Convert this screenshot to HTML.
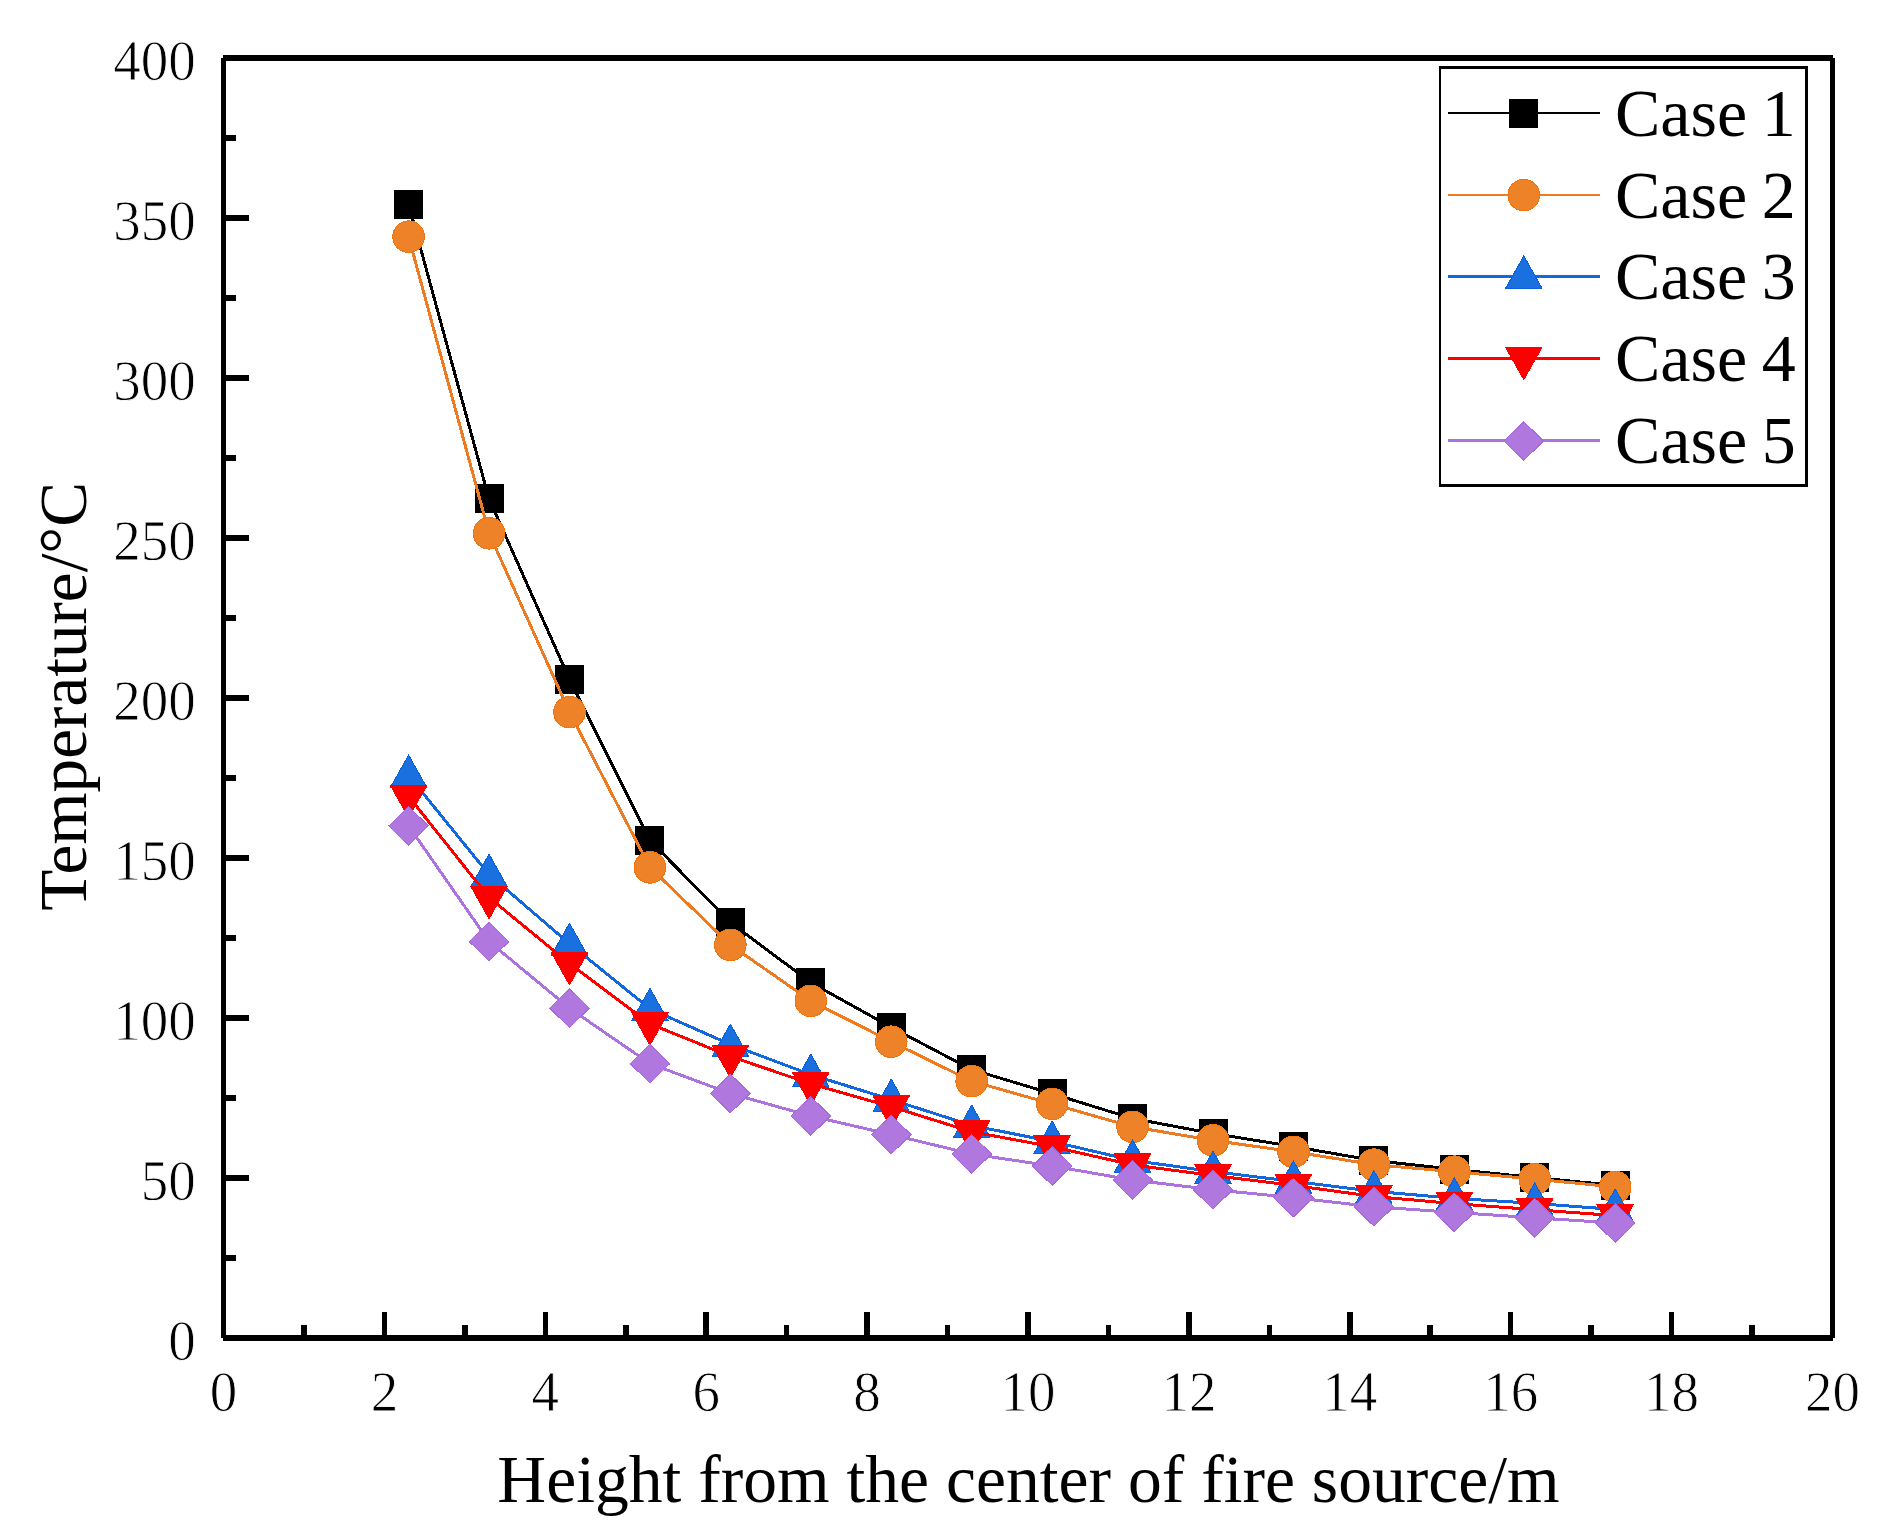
<!DOCTYPE html>
<html><head><meta charset="utf-8"><title>Temperature vs height</title>
<style>html,body{margin:0;padding:0;background:#fff;}svg{display:block;}text{font-family:"Liberation Serif","Times New Roman",serif;fill:#000;}</style></head><body>
<svg width="1890" height="1535" viewBox="0 0 1890 1535">
<rect width="1890" height="1535" fill="#fff"/>
<g shape-rendering="crispEdges">
<polyline points="408.61,204.5 489.05,498.9 569.49,679.2 649.93,840.4 730.37,922.5 810.81,982.5 891.25,1027.3 971.69,1069.6 1052.13,1093.7 1132.57,1118.5 1213.01,1133.5 1293.45,1146.5 1373.89,1160.5 1454.33,1169.4 1534.77,1177.6 1615.21,1185.4" fill="none" stroke="#000000" stroke-width="3.0" stroke-linejoin="round"/>
<rect x="394.61" y="190.5" width="28" height="28" fill="#000000" stroke="#000000" stroke-width="1"/>
<rect x="475.05" y="484.9" width="28" height="28" fill="#000000" stroke="#000000" stroke-width="1"/>
<rect x="555.49" y="665.2" width="28" height="28" fill="#000000" stroke="#000000" stroke-width="1"/>
<rect x="635.93" y="826.4" width="28" height="28" fill="#000000" stroke="#000000" stroke-width="1"/>
<rect x="716.37" y="908.5" width="28" height="28" fill="#000000" stroke="#000000" stroke-width="1"/>
<rect x="796.81" y="968.5" width="28" height="28" fill="#000000" stroke="#000000" stroke-width="1"/>
<rect x="877.25" y="1013.3" width="28" height="28" fill="#000000" stroke="#000000" stroke-width="1"/>
<rect x="957.69" y="1055.6" width="28" height="28" fill="#000000" stroke="#000000" stroke-width="1"/>
<rect x="1038.13" y="1079.7" width="28" height="28" fill="#000000" stroke="#000000" stroke-width="1"/>
<rect x="1118.57" y="1104.5" width="28" height="28" fill="#000000" stroke="#000000" stroke-width="1"/>
<rect x="1199.01" y="1119.5" width="28" height="28" fill="#000000" stroke="#000000" stroke-width="1"/>
<rect x="1279.45" y="1132.5" width="28" height="28" fill="#000000" stroke="#000000" stroke-width="1"/>
<rect x="1359.89" y="1146.5" width="28" height="28" fill="#000000" stroke="#000000" stroke-width="1"/>
<rect x="1440.33" y="1155.4" width="28" height="28" fill="#000000" stroke="#000000" stroke-width="1"/>
<rect x="1520.77" y="1163.6" width="28" height="28" fill="#000000" stroke="#000000" stroke-width="1"/>
<rect x="1601.21" y="1171.4" width="28" height="28" fill="#000000" stroke="#000000" stroke-width="1"/>
<polyline points="408.61,236.7 489.05,533.3 569.49,712.2 649.93,867.4 730.37,944.9 810.81,1000.9 891.25,1041.7 971.69,1081.2 1052.13,1103.9 1132.57,1126.8 1213.01,1140.4 1293.45,1151.8 1373.89,1164.6 1454.33,1171.7 1534.77,1179.1 1615.21,1187" fill="none" stroke="#EE7B22" stroke-width="3.0" stroke-linejoin="round"/>
<circle cx="408.61" cy="236.7" r="15.8" fill="#EE8229" stroke="#EC7512" stroke-width="1"/>
<circle cx="489.05" cy="533.3" r="15.8" fill="#EE8229" stroke="#EC7512" stroke-width="1"/>
<circle cx="569.49" cy="712.2" r="15.8" fill="#EE8229" stroke="#EC7512" stroke-width="1"/>
<circle cx="649.93" cy="867.4" r="15.8" fill="#EE8229" stroke="#EC7512" stroke-width="1"/>
<circle cx="730.37" cy="944.9" r="15.8" fill="#EE8229" stroke="#EC7512" stroke-width="1"/>
<circle cx="810.81" cy="1000.9" r="15.8" fill="#EE8229" stroke="#EC7512" stroke-width="1"/>
<circle cx="891.25" cy="1041.7" r="15.8" fill="#EE8229" stroke="#EC7512" stroke-width="1"/>
<circle cx="971.69" cy="1081.2" r="15.8" fill="#EE8229" stroke="#EC7512" stroke-width="1"/>
<circle cx="1052.13" cy="1103.9" r="15.8" fill="#EE8229" stroke="#EC7512" stroke-width="1"/>
<circle cx="1132.57" cy="1126.8" r="15.8" fill="#EE8229" stroke="#EC7512" stroke-width="1"/>
<circle cx="1213.01" cy="1140.4" r="15.8" fill="#EE8229" stroke="#EC7512" stroke-width="1"/>
<circle cx="1293.45" cy="1151.8" r="15.8" fill="#EE8229" stroke="#EC7512" stroke-width="1"/>
<circle cx="1373.89" cy="1164.6" r="15.8" fill="#EE8229" stroke="#EC7512" stroke-width="1"/>
<circle cx="1454.33" cy="1171.7" r="15.8" fill="#EE8229" stroke="#EC7512" stroke-width="1"/>
<circle cx="1534.77" cy="1179.1" r="15.8" fill="#EE8229" stroke="#EC7512" stroke-width="1"/>
<circle cx="1615.21" cy="1187" r="15.8" fill="#EE8229" stroke="#EC7512" stroke-width="1"/>
<polyline points="408.61,775.5 489.05,874.6 569.49,943.7 649.93,1008.8 730.37,1044.5 810.81,1074.6 891.25,1099.6 971.69,1125.5 1052.13,1141.5 1132.57,1160.4 1213.01,1171.6 1293.45,1181.4 1373.89,1191.3 1454.33,1198.3 1534.77,1203.4 1615.21,1209.5" fill="none" stroke="#1468DD" stroke-width="3.0" stroke-linejoin="round"/>
<polygon points="408.61,755 426.81,787.4 390.41,787.4" fill="#1B70DF" stroke="#0A5FDA" stroke-width="1" stroke-linejoin="round"/>
<polygon points="489.05,854.1 507.25,886.5 470.85,886.5" fill="#1B70DF" stroke="#0A5FDA" stroke-width="1" stroke-linejoin="round"/>
<polygon points="569.49,923.2 587.69,955.6 551.29,955.6" fill="#1B70DF" stroke="#0A5FDA" stroke-width="1" stroke-linejoin="round"/>
<polygon points="649.93,988.3 668.13,1020.7 631.73,1020.7" fill="#1B70DF" stroke="#0A5FDA" stroke-width="1" stroke-linejoin="round"/>
<polygon points="730.37,1024 748.57,1056.4 712.17,1056.4" fill="#1B70DF" stroke="#0A5FDA" stroke-width="1" stroke-linejoin="round"/>
<polygon points="810.81,1054.1 829.01,1086.5 792.61,1086.5" fill="#1B70DF" stroke="#0A5FDA" stroke-width="1" stroke-linejoin="round"/>
<polygon points="891.25,1079.1 909.45,1111.5 873.05,1111.5" fill="#1B70DF" stroke="#0A5FDA" stroke-width="1" stroke-linejoin="round"/>
<polygon points="971.69,1105 989.89,1137.4 953.49,1137.4" fill="#1B70DF" stroke="#0A5FDA" stroke-width="1" stroke-linejoin="round"/>
<polygon points="1052.13,1121 1070.33,1153.4 1033.93,1153.4" fill="#1B70DF" stroke="#0A5FDA" stroke-width="1" stroke-linejoin="round"/>
<polygon points="1132.57,1139.9 1150.77,1172.3 1114.37,1172.3" fill="#1B70DF" stroke="#0A5FDA" stroke-width="1" stroke-linejoin="round"/>
<polygon points="1213.01,1151.1 1231.21,1183.5 1194.81,1183.5" fill="#1B70DF" stroke="#0A5FDA" stroke-width="1" stroke-linejoin="round"/>
<polygon points="1293.45,1160.9 1311.65,1193.3 1275.25,1193.3" fill="#1B70DF" stroke="#0A5FDA" stroke-width="1" stroke-linejoin="round"/>
<polygon points="1373.89,1170.8 1392.09,1203.2 1355.69,1203.2" fill="#1B70DF" stroke="#0A5FDA" stroke-width="1" stroke-linejoin="round"/>
<polygon points="1454.33,1177.8 1472.53,1210.2 1436.13,1210.2" fill="#1B70DF" stroke="#0A5FDA" stroke-width="1" stroke-linejoin="round"/>
<polygon points="1534.77,1182.9 1552.97,1215.3 1516.57,1215.3" fill="#1B70DF" stroke="#0A5FDA" stroke-width="1" stroke-linejoin="round"/>
<polygon points="1615.21,1189 1633.41,1221.4 1597.01,1221.4" fill="#1B70DF" stroke="#0A5FDA" stroke-width="1" stroke-linejoin="round"/>
<polyline points="408.61,796.4 489.05,897.5 569.49,963.5 649.93,1023.8 730.37,1056.4 810.81,1083.8 891.25,1106.7 971.69,1131.8 1052.13,1146.7 1132.57,1164.9 1213.01,1175.5 1293.45,1185.4 1373.89,1196.5 1454.33,1203.6 1534.77,1209.7 1615.21,1215.6" fill="none" stroke="#FF0000" stroke-width="3.0" stroke-linejoin="round"/>
<polygon points="390.41,785.4 426.81,785.4 408.61,817.8" fill="#FF0000" stroke="#FF0000" stroke-width="1" stroke-linejoin="round"/>
<polygon points="470.85,886.5 507.25,886.5 489.05,918.9" fill="#FF0000" stroke="#FF0000" stroke-width="1" stroke-linejoin="round"/>
<polygon points="551.29,952.5 587.69,952.5 569.49,984.9" fill="#FF0000" stroke="#FF0000" stroke-width="1" stroke-linejoin="round"/>
<polygon points="631.73,1012.8 668.13,1012.8 649.93,1045.2" fill="#FF0000" stroke="#FF0000" stroke-width="1" stroke-linejoin="round"/>
<polygon points="712.17,1045.4 748.57,1045.4 730.37,1077.8" fill="#FF0000" stroke="#FF0000" stroke-width="1" stroke-linejoin="round"/>
<polygon points="792.61,1072.8 829.01,1072.8 810.81,1105.2" fill="#FF0000" stroke="#FF0000" stroke-width="1" stroke-linejoin="round"/>
<polygon points="873.05,1095.7 909.45,1095.7 891.25,1128.1" fill="#FF0000" stroke="#FF0000" stroke-width="1" stroke-linejoin="round"/>
<polygon points="953.49,1120.8 989.89,1120.8 971.69,1153.2" fill="#FF0000" stroke="#FF0000" stroke-width="1" stroke-linejoin="round"/>
<polygon points="1033.93,1135.7 1070.33,1135.7 1052.13,1168.1" fill="#FF0000" stroke="#FF0000" stroke-width="1" stroke-linejoin="round"/>
<polygon points="1114.37,1153.9 1150.77,1153.9 1132.57,1186.3" fill="#FF0000" stroke="#FF0000" stroke-width="1" stroke-linejoin="round"/>
<polygon points="1194.81,1164.5 1231.21,1164.5 1213.01,1196.9" fill="#FF0000" stroke="#FF0000" stroke-width="1" stroke-linejoin="round"/>
<polygon points="1275.25,1174.4 1311.65,1174.4 1293.45,1206.8" fill="#FF0000" stroke="#FF0000" stroke-width="1" stroke-linejoin="round"/>
<polygon points="1355.69,1185.5 1392.09,1185.5 1373.89,1217.9" fill="#FF0000" stroke="#FF0000" stroke-width="1" stroke-linejoin="round"/>
<polygon points="1436.13,1192.6 1472.53,1192.6 1454.33,1225" fill="#FF0000" stroke="#FF0000" stroke-width="1" stroke-linejoin="round"/>
<polygon points="1516.57,1198.7 1552.97,1198.7 1534.77,1231.1" fill="#FF0000" stroke="#FF0000" stroke-width="1" stroke-linejoin="round"/>
<polygon points="1597.01,1204.6 1633.41,1204.6 1615.21,1237" fill="#FF0000" stroke="#FF0000" stroke-width="1" stroke-linejoin="round"/>
<polyline points="408.61,825.9 489.05,941.6 569.49,1008.2 649.93,1063.6 730.37,1093.5 810.81,1116 891.25,1134.6 971.69,1154 1052.13,1166 1132.57,1180 1213.01,1189.7 1293.45,1197.6 1373.89,1206.8 1454.33,1212.4 1534.77,1217.8 1615.21,1223" fill="none" stroke="#AC72DD" stroke-width="3.0" stroke-linejoin="round"/>
<polygon points="408.61,806.6 428.41,825.9 408.61,845.2 388.81,825.9" fill="#B078DF" stroke="#A668DA" stroke-width="1" stroke-linejoin="round"/>
<polygon points="489.05,922.3 508.85,941.6 489.05,960.9 469.25,941.6" fill="#B078DF" stroke="#A668DA" stroke-width="1" stroke-linejoin="round"/>
<polygon points="569.49,988.9 589.29,1008.2 569.49,1027.5 549.69,1008.2" fill="#B078DF" stroke="#A668DA" stroke-width="1" stroke-linejoin="round"/>
<polygon points="649.93,1044.3 669.73,1063.6 649.93,1082.9 630.13,1063.6" fill="#B078DF" stroke="#A668DA" stroke-width="1" stroke-linejoin="round"/>
<polygon points="730.37,1074.2 750.17,1093.5 730.37,1112.8 710.57,1093.5" fill="#B078DF" stroke="#A668DA" stroke-width="1" stroke-linejoin="round"/>
<polygon points="810.81,1096.7 830.61,1116 810.81,1135.3 791.01,1116" fill="#B078DF" stroke="#A668DA" stroke-width="1" stroke-linejoin="round"/>
<polygon points="891.25,1115.3 911.05,1134.6 891.25,1153.9 871.45,1134.6" fill="#B078DF" stroke="#A668DA" stroke-width="1" stroke-linejoin="round"/>
<polygon points="971.69,1134.7 991.49,1154 971.69,1173.3 951.89,1154" fill="#B078DF" stroke="#A668DA" stroke-width="1" stroke-linejoin="round"/>
<polygon points="1052.13,1146.7 1071.93,1166 1052.13,1185.3 1032.33,1166" fill="#B078DF" stroke="#A668DA" stroke-width="1" stroke-linejoin="round"/>
<polygon points="1132.57,1160.7 1152.37,1180 1132.57,1199.3 1112.77,1180" fill="#B078DF" stroke="#A668DA" stroke-width="1" stroke-linejoin="round"/>
<polygon points="1213.01,1170.4 1232.81,1189.7 1213.01,1209 1193.21,1189.7" fill="#B078DF" stroke="#A668DA" stroke-width="1" stroke-linejoin="round"/>
<polygon points="1293.45,1178.3 1313.25,1197.6 1293.45,1216.9 1273.65,1197.6" fill="#B078DF" stroke="#A668DA" stroke-width="1" stroke-linejoin="round"/>
<polygon points="1373.89,1187.5 1393.69,1206.8 1373.89,1226.1 1354.09,1206.8" fill="#B078DF" stroke="#A668DA" stroke-width="1" stroke-linejoin="round"/>
<polygon points="1454.33,1193.1 1474.13,1212.4 1454.33,1231.7 1434.53,1212.4" fill="#B078DF" stroke="#A668DA" stroke-width="1" stroke-linejoin="round"/>
<polygon points="1534.77,1198.5 1554.57,1217.8 1534.77,1237.1 1514.97,1217.8" fill="#B078DF" stroke="#A668DA" stroke-width="1" stroke-linejoin="round"/>
<polygon points="1615.21,1203.7 1635.01,1223 1615.21,1242.3 1595.41,1223" fill="#B078DF" stroke="#A668DA" stroke-width="1" stroke-linejoin="round"/>
</g>
<g fill="#000" shape-rendering="crispEdges"><rect x="223" y="55" width="1610" height="6"/><rect x="223" y="1335" width="1610" height="6"/><rect x="221" y="58" width="5" height="1280"/><rect x="1830" y="58" width="5" height="1280"/><rect x="301" y="1325" width="6" height="10"/><rect x="382" y="1312" width="5" height="23"/><rect x="462" y="1325" width="6" height="10"/><rect x="543" y="1312" width="5" height="23"/><rect x="623" y="1325" width="6" height="10"/><rect x="703" y="1312" width="6" height="23"/><rect x="784" y="1325" width="5" height="10"/><rect x="864" y="1312" width="6" height="23"/><rect x="945" y="1325" width="5" height="10"/><rect x="1025" y="1312" width="6" height="23"/><rect x="1106" y="1325" width="5" height="10"/><rect x="1186" y="1312" width="6" height="23"/><rect x="1267" y="1325" width="5" height="10"/><rect x="1347" y="1312" width="6" height="23"/><rect x="1427" y="1325" width="6" height="10"/><rect x="1508" y="1312" width="5" height="23"/><rect x="1588" y="1325" width="6" height="10"/><rect x="1669" y="1312" width="5" height="23"/><rect x="1749" y="1325" width="6" height="10"/><rect x="226" y="1255" width="10" height="6"/><rect x="226" y="1175" width="23" height="6"/><rect x="226" y="1095" width="10" height="6"/><rect x="226" y="1015" width="23" height="6"/><rect x="226" y="935" width="10" height="6"/><rect x="226" y="855" width="23" height="6"/><rect x="226" y="775" width="10" height="6"/><rect x="226" y="695" width="23" height="6"/><rect x="226" y="615" width="10" height="6"/><rect x="226" y="535" width="23" height="6"/><rect x="226" y="455" width="10" height="6"/><rect x="226" y="375" width="23" height="6"/><rect x="226" y="295" width="10" height="6"/><rect x="226" y="215" width="23" height="6"/><rect x="226" y="135" width="10" height="6"/></g>
<g stroke="#fff" stroke-width="0.8"><text transform="translate(195.8,1359.6) scale(1,1.045)" text-anchor="end" font-size="55">0</text><text transform="translate(195.8,1199.6) scale(1,1.045)" text-anchor="end" font-size="55">50</text><text transform="translate(195.8,1039.6) scale(1,1.045)" text-anchor="end" font-size="55">100</text><text transform="translate(195.8,879.6) scale(1,1.045)" text-anchor="end" font-size="55">150</text><text transform="translate(195.8,719.6) scale(1,1.045)" text-anchor="end" font-size="55">200</text><text transform="translate(195.8,559.6) scale(1,1.045)" text-anchor="end" font-size="55">250</text><text transform="translate(195.8,399.6) scale(1,1.045)" text-anchor="end" font-size="55">300</text><text transform="translate(195.8,239.6) scale(1,1.045)" text-anchor="end" font-size="55">350</text><text transform="translate(195.8,79.6) scale(1,1.045)" text-anchor="end" font-size="55">400</text><text transform="translate(223.6,1411.2) scale(1,1.045)" text-anchor="middle" font-size="55">0</text><text transform="translate(384.48,1411.2) scale(1,1.045)" text-anchor="middle" font-size="55">2</text><text transform="translate(545.36,1411.2) scale(1,1.045)" text-anchor="middle" font-size="55">4</text><text transform="translate(706.24,1411.2) scale(1,1.045)" text-anchor="middle" font-size="55">6</text><text transform="translate(867.12,1411.2) scale(1,1.045)" text-anchor="middle" font-size="55">8</text><text transform="translate(1028,1411.2) scale(1,1.045)" text-anchor="middle" font-size="55">10</text><text transform="translate(1188.88,1411.2) scale(1,1.045)" text-anchor="middle" font-size="55">12</text><text transform="translate(1349.76,1411.2) scale(1,1.045)" text-anchor="middle" font-size="55">14</text><text transform="translate(1510.64,1411.2) scale(1,1.045)" text-anchor="middle" font-size="55">16</text><text transform="translate(1671.52,1411.2) scale(1,1.045)" text-anchor="middle" font-size="55">18</text><text transform="translate(1832.4,1411.2) scale(1,1.045)" text-anchor="middle" font-size="55">20</text></g>
<text x="1028.5" y="1502" text-anchor="middle" font-size="67.6">Height from the center of fire source/m</text>
<text transform="translate(85.6,696.4) rotate(-90)" text-anchor="middle" font-size="67.2">Temperature/°C</text>
<g><g fill="#000" shape-rendering="crispEdges"><rect x="1439" y="66" width="369" height="3"/><rect x="1439" y="484" width="369" height="3"/><rect x="1439" y="66" width="2" height="421"/><rect x="1805" y="66" width="3" height="421"/></g><rect x="1448" y="112" width="152" height="2" fill="#000000" shape-rendering="crispEdges"/><g shape-rendering="crispEdges"><rect x="1509.8" y="99.2" width="28" height="28" fill="#000000" stroke="#000000" stroke-width="1"/></g><text x="1615" y="135.8" font-size="68" word-spacing="-2.5">Case 1</text><rect x="1448" y="194" width="152" height="2" fill="#EE7B22" shape-rendering="crispEdges"/><g shape-rendering="crispEdges"><circle cx="1523.8" cy="195.1" r="15.8" fill="#EE8229" stroke="#EC7512" stroke-width="1"/></g><text x="1615" y="217.8" font-size="68" word-spacing="-2.5">Case 2</text><rect x="1448" y="275" width="152" height="3" fill="#1468DD" shape-rendering="crispEdges"/><g shape-rendering="crispEdges"><polygon points="1523.8,255.9 1542,288.3 1505.6,288.3" fill="#1B70DF" stroke="#0A5FDA" stroke-width="1" stroke-linejoin="round"/></g><text x="1615" y="299.3" font-size="68" word-spacing="-2.5">Case 3</text><rect x="1448" y="357" width="152" height="3" fill="#FF0000" shape-rendering="crispEdges"/><g shape-rendering="crispEdges"><polygon points="1505.6,347.3 1542,347.3 1523.8,379.7" fill="#FF0000" stroke="#FF0000" stroke-width="1" stroke-linejoin="round"/></g><text x="1615" y="381.3" font-size="68" word-spacing="-2.5">Case 4</text><rect x="1448" y="439" width="152" height="3" fill="#AC72DD" shape-rendering="crispEdges"/><g shape-rendering="crispEdges"><polygon points="1523.8,421.7 1543.6,441 1523.8,460.3 1504,441" fill="#B078DF" stroke="#A668DA" stroke-width="1" stroke-linejoin="round"/></g><text x="1615" y="463.3" font-size="68" word-spacing="-2.5">Case 5</text></g>
</svg></body></html>
